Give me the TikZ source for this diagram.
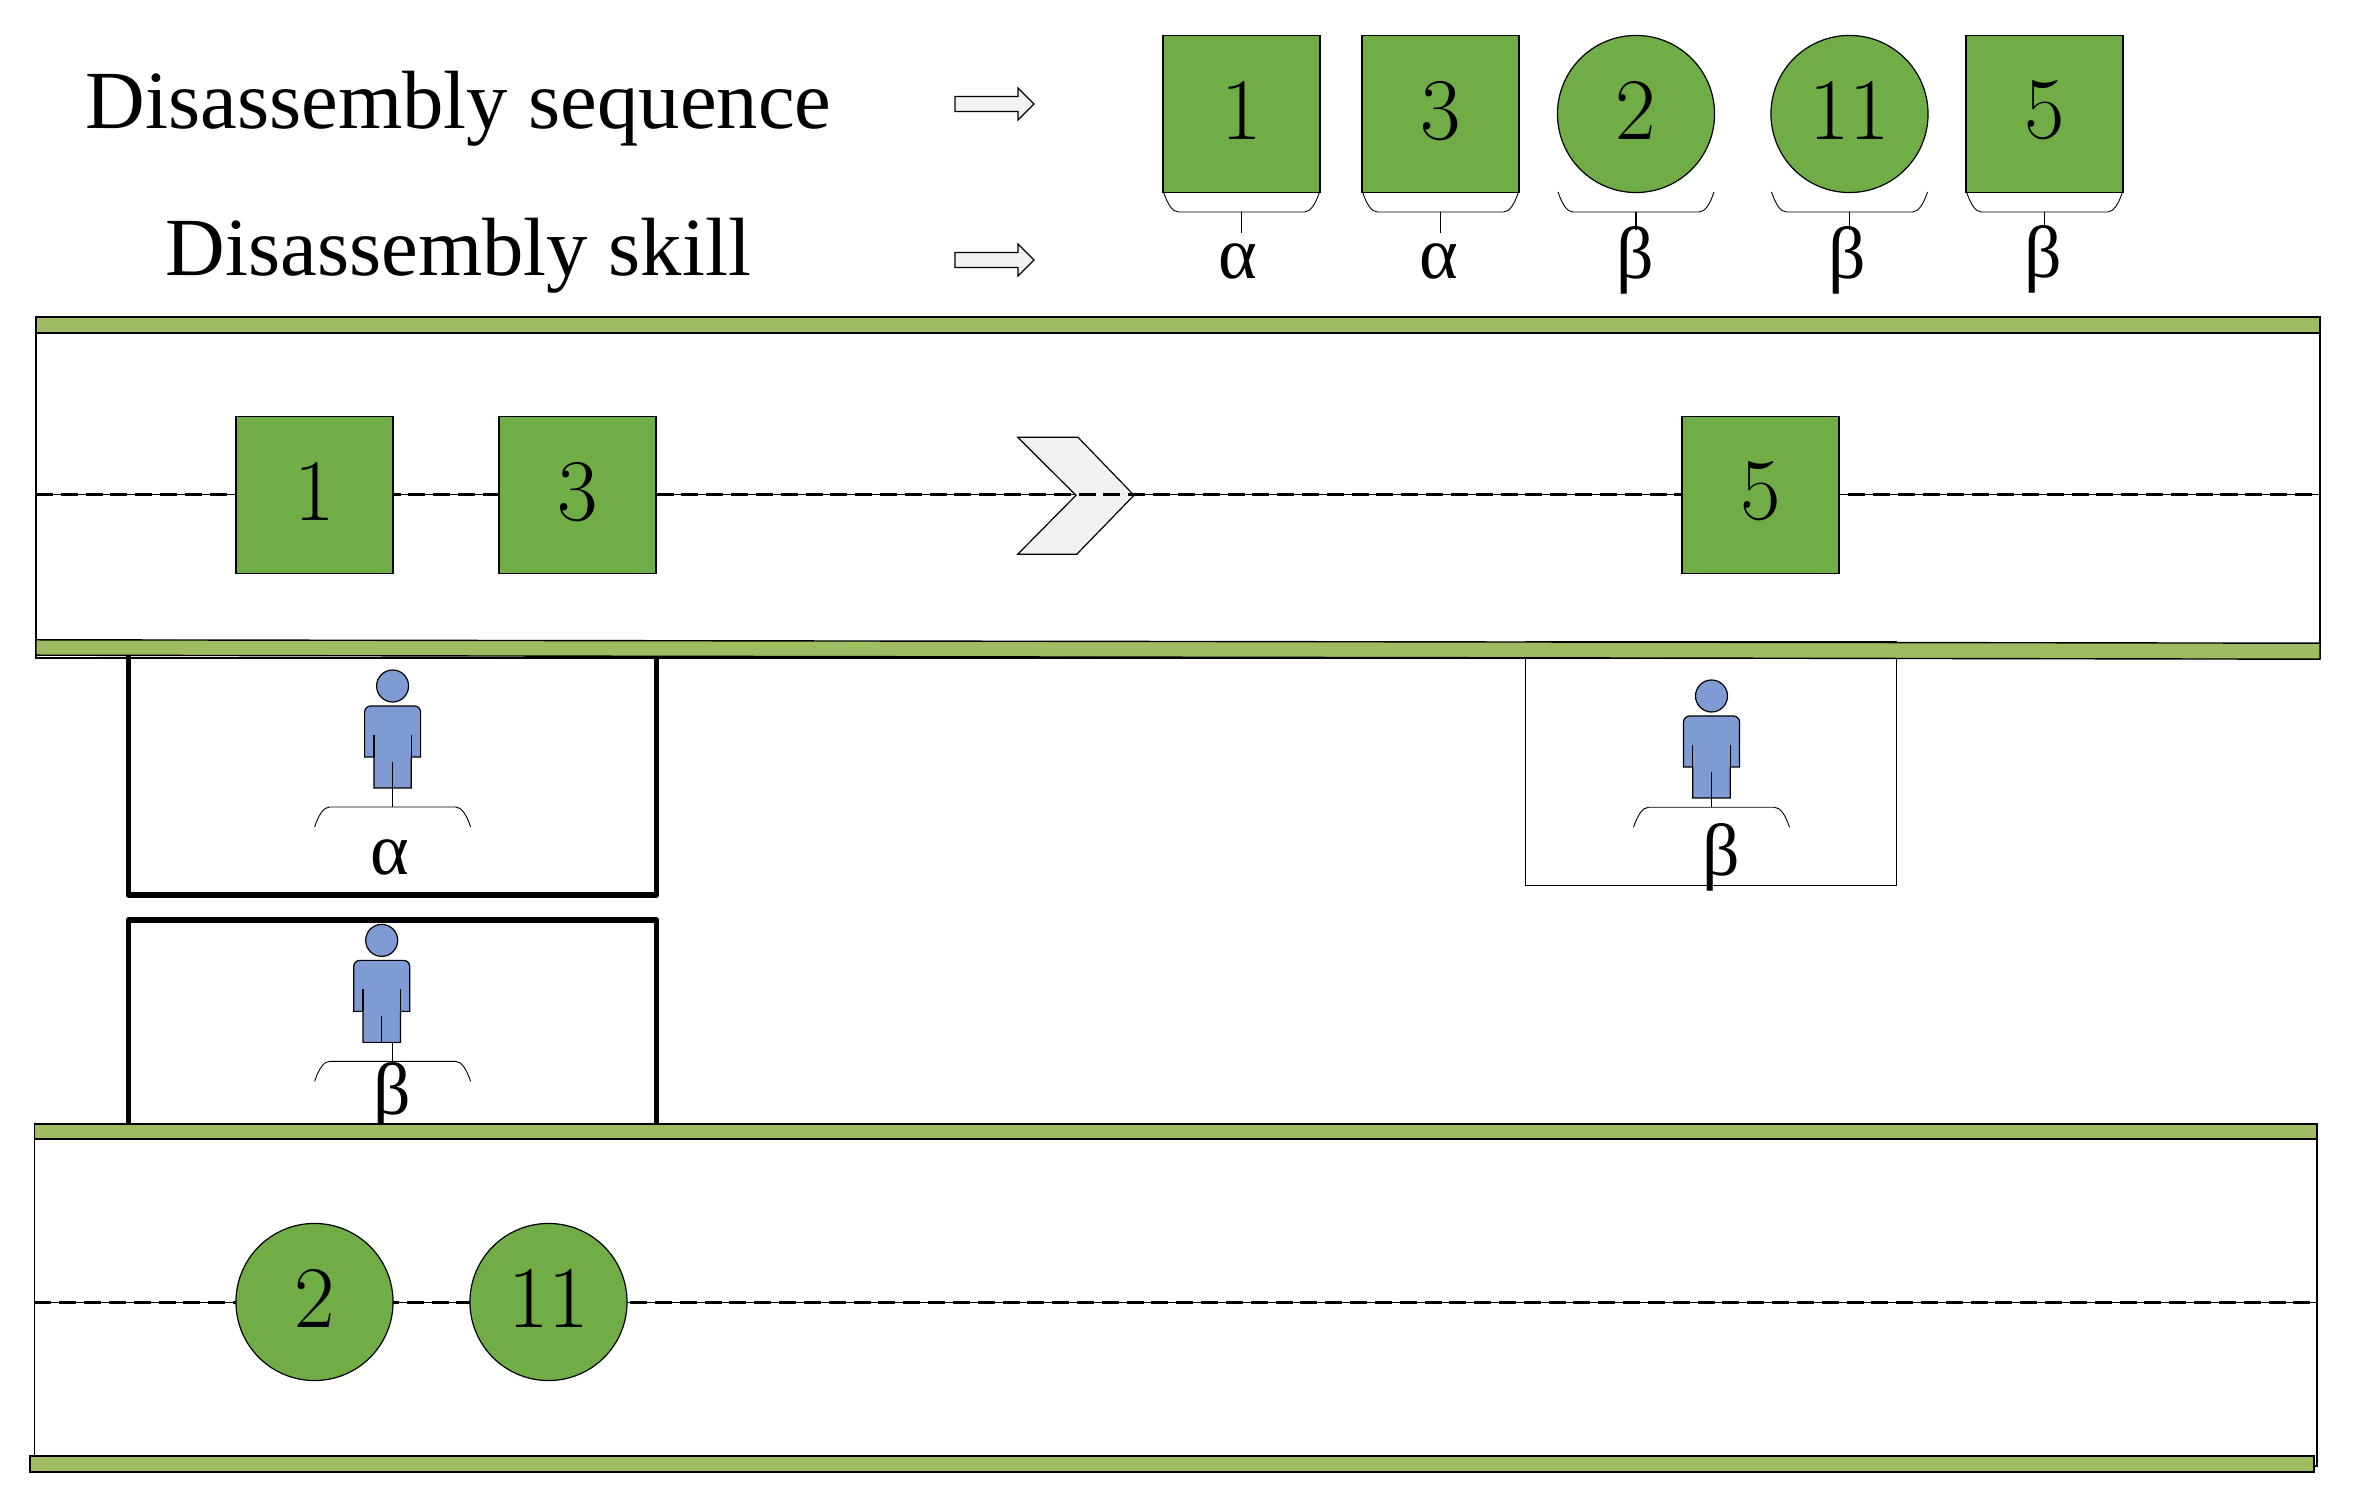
\documentclass[tikz,border=0pt]{standalone}
\usepackage{fontspec}
\newfontfamily\timesfont{Liberation Serif}
\definecolor{partgreen}{HTML}{70AD47}
\definecolor{beltgreen}{HTML}{9FBC62}
\definecolor{workerblue}{HTML}{7F9BD3}
\definecolor{arrowgray}{HTML}{F2F2F2}
\tikzset{
    thinline/.style = {line width = 0.012cm},
    partsq/.style = {draw, thinline, fill = partgreen, rectangle, minimum size = 1.57cm, inner sep = 0pt, text depth = 2.3pt, font = \fontsize{25}{25}\selectfont},
    partci/.style = {partsq, circle},
    beltbar/.style = {draw, line width = 0.014cm, fill = beltgreen},
    beltaxis/.style = {line width = 0.03cm, dash pattern = on 0.17cm off 0.0781cm, preaction = {draw, solid, line width = 0.01cm}},
    stationbox/.style = {line width = 0.057cm, line join = round},
    titletext/.style = {anchor = base west, inner sep = 0pt, font = \timesfont\fontsize{23.5}{23.5}\selectfont},
    skilltext/.style = {anchor = base, inner sep = 0pt, font = \timesfont\fontsize{21}{21}\selectfont}
}
\newcommand{\skillbrace}[3]{
    \draw[line width = 0.009cm, shift = {(#1,#2)}, yscale = #3] (-78,20) .. controls (-74,8) and (-69,0) .. (-63,0) -- (63,0) .. controls (69,0) and (74,8) .. (78,20);
}
\newcommand{\blockarrow}[1]{
    \draw[thinline, fill = arrowgray, shift = {(955,#1)}] (0,-7.5) -- (63,-7.5) -- (63,-16) -- (79,0) -- (63,16) -- (63,7.5) -- (0,7.5) -- cycle;
}
\newcommand{\worker}[2]{
    \begin{scope}[shift = {(#1,#2)}, thinline]
        \draw[fill = workerblue] (0,0) circle[radius = 16];
        \draw[fill = workerblue] (-18.7,102) -- (-18.7,71) -- (-28,71) -- (-28,26) .. controls (-28,22.5) and (-25,20) .. (-22,20) -- (22,20) .. controls (25,20) and (28,22.5) .. (28,26) -- (28,71) -- (18.7,71) -- (18.7,102) -- cycle;
        \draw (-18.7,49) -- (-18.7,71);
        \draw (18.7,49) -- (18.7,71);
        \draw (0,76) -- (0,102);
    \end{scope}
}
\begin{document}
\begin{tikzpicture}[x = 0.01cm, y = -0.01cm]
    \useasboundingbox (0,0) rectangle (2354,1507);
    \node[titletext] (seqtitle) at (85,129) {Disassembly sequence};
    \node[titletext] (skilltitle) at (165,275.5) {Disassembly skill};
    \blockarrow{104}
    \blockarrow{260}
    \node[partsq] (seqa) at (1241.5,114) {1};
    \node[partsq] (seqb) at (1440.5,114) {3};
    \node[partci] (seqc) at (1636,114) {2};
    \node[partci] (seqd) at (1849.5,114) {11};
    \node[partsq] (seqe) at (2044.5,114) {5};
    \skillbrace{1241.5}{212}{-1}
    \skillbrace{1440.5}{212}{-1}
    \skillbrace{1636}{212}{-1}
    \skillbrace{1849.5}{212}{-1}
    \skillbrace{2044.5}{212}{-1}
    \begin{scope}[thinline]
        \draw (1241.5,212) -- (1241.5,233);
        \draw (1440.5,212) -- (1440.5,233);
        \draw (1636,212) -- (1636,230);
        \draw (1849.5,212) -- (1849.5,230);
        \draw (2044.5,212) -- (2044.5,228);
    \end{scope}
    \node[skilltext] (skilla) at (1238,279) {α};
    \node[skilltext] (skillb) at (1439,279) {α};
    \node[skilltext] (skillc) at (1635,279) {β};
    \node[skilltext] (skilld) at (1847,279) {β};
    \node[skilltext] (skille) at (2043,278) {β};
    \draw[thinline] (36,333) rectangle (2320,658);
    \draw[thinline] (34.4,1139) rectangle (2317,1466);
    \draw[beltaxis] (36,495) -- (2320,495);
    \draw[thinline, fill = arrowgray] (1017.7,437.3) -- (1078,437.3) -- (1134,495.3) -- (1076.7,554.3) -- (1017.7,554.3) -- (1076,495.3) -- cycle;
    \draw[line width = 0.03cm, dash pattern = on 0.17cm off 0.0781cm] (36,495) -- (2320,495);
    \draw[beltaxis] (34.4,1302) -- (2317,1302);
    \node[partsq] (belta) at (314.5,495) {1};
    \node[partsq] (beltb) at (577.5,495) {3};
    \node[partsq] (belte) at (1760.5,495) {5};
    \node[partci] (beltc) at (314.5,1302) {2};
    \node[partci] (beltd) at (548.5,1302) {11};
    \draw[stationbox] (128.5,650) -- (128.5,895) -- (656.5,895) -- (656.5,650);
    \draw[stationbox] (128.5,1130) -- (128.5,920) -- (656.5,920) -- (656.5,1130);
    \draw[thinline] (1525.3,641.3) rectangle (1896.7,885.3);
    \worker{392.6}{686}
    \worker{381.7}{940.4}
    \worker{1711.5}{696}
    \begin{scope}[thinline]
        \draw (392.6,788) -- (392.6,807);
        \draw (392.6,1042.5) -- (392.6,1061.4);
        \draw (1711.5,797.5) -- (1711.5,807.3);
    \end{scope}
    \skillbrace{392.6}{807}{1}
    \skillbrace{392.6}{1061.4}{1}
    \skillbrace{1711.5}{807.3}{1}
    \node[skilltext] (workera) at (389.6,875) {α};
    \node[skilltext] (workerb) at (392,1114.6) {β};
    \node[skilltext] (workerc) at (1721,876) {β};
    \draw[beltbar] (36,317) rectangle (2320,333);
    \draw[beltbar] (36,639.8) -- (2320,643.2) -- (2320,659.2) -- (36,655.2) -- cycle;
    \draw[beltbar] (34.4,1124) rectangle (2317,1139);
    \draw[beltbar] (30,1456) rectangle (2314,1472);
\end{tikzpicture}
\end{document}
